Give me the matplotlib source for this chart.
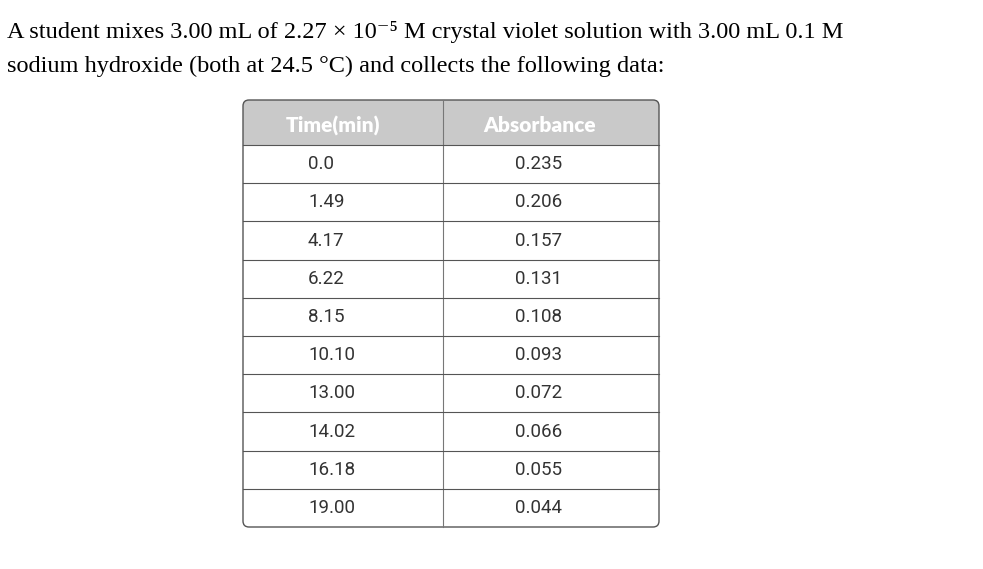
import matplotlib.pyplot as plt
from matplotlib.patches import FancyBboxPatch, Rectangle

# 表格数据
times = ["0.0", "1.49", "4.17", "6.22", "8.15", "10.10", "13.00", "14.02", "16.18", "19.00"]
absorbance = ["0.235", "0.206", "0.157", "0.131", "0.108", "0.093", "0.072", "0.066", "0.055", "0.044"]
headers = ["Time(min)", "Absorbance"]

fig = plt.figure(figsize=(9.83, 5.69), dpi=100)
ax = fig.add_axes([0, 0, 1, 1])
ax.set_xlim(0, 983)
ax.set_ylim(569, 0)
ax.axis("off")

serif = ["Liberation Serif", "DejaVu Serif"]
ax.text(7, 32, "A student mixes 3.00 mL of 2.27 \u00d7 10\u207b\u2075 M crystal violet solution with 3.00 mL 0.1 M",
        fontsize=17.5, family=serif, va="center", ha="left")
ax.text(7, 66, "sodium hydroxide (both at 24.5 \u00b0C) and collects the following data:",
        fontsize=17.5, family=serif, va="center", ha="left")

x0, x1, xm = 243, 659, 443
top, head_bot, bottom = 100, 145, 527
row_h = (bottom - head_bot) / len(times)

# 表头背景
ax.add_patch(FancyBboxPatch((x0, top), x1 - x0, head_bot - top,
                            boxstyle="round,pad=0,rounding_size=6", fc="#c9c9c9", ec="none"))
ax.add_patch(Rectangle((x0, top + 10), x1 - x0, head_bot - top - 10, fc="#c9c9c9", ec="none"))
# 外框
ax.add_patch(FancyBboxPatch((x0, top), x1 - x0, bottom - top,
                            boxstyle="round,pad=0,rounding_size=6", fc="none", ec="#555555", lw=1))
ax.plot([xm, xm], [top, bottom], color="#777777", lw=0.8)

ax.text(333, (top + head_bot) / 2 + 3, headers[0], color="white", fontweight="heavy",
        fontsize=15, family="Lato", ha="center", va="center")
ax.text(540, (top + head_bot) / 2 + 3, headers[1], color="white", fontweight="heavy",
        fontsize=15, family="Lato", ha="center", va="center")

for i, (t, a) in enumerate(zip(times, absorbance)):
    y = head_bot + i * row_h
    if i > 0:
        ax.plot([x0, x1], [y, y], color="#555555", lw=0.8)
    yc = y + row_h / 2
    ax.text(308, yc, t, fontsize=13.5, family="Roboto", color="#333333", ha="left", va="center")
    ax.text(515, yc, a, fontsize=13.5, family="Roboto", color="#333333", ha="left", va="center")
ax.plot([x0, x1], [head_bot, head_bot], color="#555555", lw=0.8)

fig.savefig("out.png", dpi=100)
